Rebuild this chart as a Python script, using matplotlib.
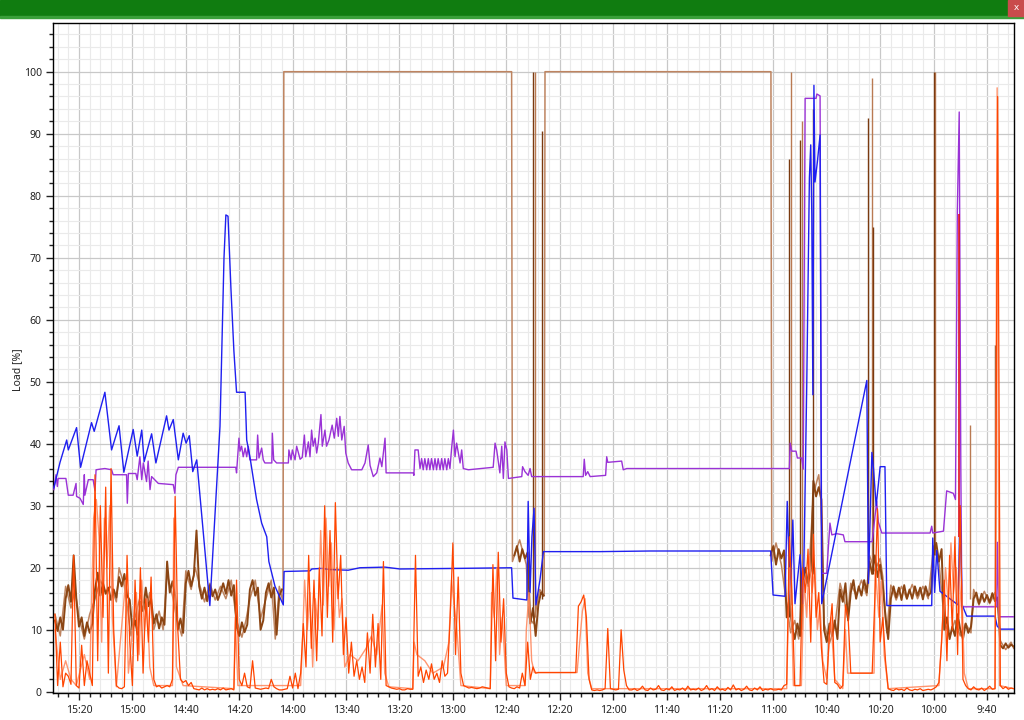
import numpy as np
import matplotlib.pyplot as plt
from matplotlib.patches import Rectangle
from matplotlib.ticker import MultipleLocator, FuncFormatter

plt.rcParams['font.family'] = ['Noto Sans', 'DejaVu Sans']

# time is minutes after midnight; the chart runs from 15:29 (left) back to 9:30 (right)

# orange-red load, one sample per minute starting at 15:29 going back
orange_start = 929
orange = [
    12.5, 1.0, 8.0, 0.8, 3.0, 2.5, 1.2, 22.0, 1.0, 0.6,
    7.5, 1.0, 5.0, 3.0, 1.0, 35.0, 5.0, 30.0, 12.0, 33.0,
    3.0, 36.0, 10.0, 1.0, 0.6, 0.5, 0.8, 22.0, 8.0, 1.0,
    18.0, 5.0, 20.0, 3.0, 15.0, 8.0, 18.5, 2.0, 0.8, 1.0,
    0.6, 0.8, 1.0, 0.8, 2.0, 31.5, 10.0, 2.0, 1.5, 1.8,
    1.0, 1.5, 0.5, 0.4, 0.3, 0.6, 0.3, 0.5, 0.3, 0.4,
    0.3, 0.5, 0.3, 0.6, 0.3, 0.4, 0.5, 0.3, 18.0, 2.0,
    1.0, 3.0, 0.8, 0.6, 5.0, 0.6, 0.5, 0.4, 0.5, 0.6,
    0.5, 2.0, 0.8, 0.5, 0.3, 0.3, 0.4, 0.5, 2.5, 0.6,
    3.0, 0.5, 3.0, 11.0, 4.0, 22.0, 7.0, 18.0, 5.0, 20.0,
    9.0, 30.0, 12.0, 26.0, 8.0, 30.5, 15.0, 22.0, 6.0, 12.0,
    3.0, 8.0, 2.5, 5.0, 2.0, 4.0, 1.5, 9.5, 3.0, 12.5,
    4.0, 11.0, 2.0, 21.0, 1.0, 0.8, 0.6, 0.5, 0.4, 0.5,
    0.3, 0.3, 0.5, 0.4, 0.4, 22.0, 2.5, 4.0, 1.5, 3.5,
    2.0, 4.5, 2.0, 3.0, 1.5, 5.0, 2.5, 3.0, 12.0, 24.0,
    6.0, 18.5, 3.0, 1.0, 0.8, 0.6, 0.7, 0.6, 0.5, 0.6,
    0.8, 0.7, 0.6, 0.5, 20.5, 5.0, 22.5, 8.0, 15.0, 3.0,
    0.8, 0.6, 0.5, 0.8, 0.6, 3.0, 1.0, 8.0, 2.0, 4.0,
    3.0, 3.1, 3.1, 3.1, 3.1, 3.1, 3.1, 3.1, 3.1, 3.1,
    3.1, 3.1, 3.1, 3.1, 3.1, 3.1, 13.8, 14.5, 15.6, 12.0,
    2.0, 0.3, 0.2, 0.3, 0.2, 0.3, 0.5, 10.2, 0.5, 0.4,
    0.3, 0.4, 10.0, 3.5, 1.0, 0.3, 0.3, 0.5, 0.2, 0.4,
    0.9, 0.3, 0.2, 0.6, 0.3, 0.4, 1.0, 0.3, 0.2, 0.5,
    0.3, 0.8, 0.2, 0.4, 0.3, 0.6, 0.2, 0.9, 0.3, 0.4,
    0.3, 0.6, 0.2, 0.4, 1.0, 0.3, 0.5, 0.2, 0.8, 0.3,
    0.4, 0.2, 0.7, 0.3, 1.1, 0.3, 0.5, 0.2, 0.4, 0.9,
    0.3, 0.2, 0.6, 0.3, 0.8, 0.2, 0.4, 0.3, 0.5, 0.3,
    0.3, 0.4, 0.3, 1.0, 1.2, 25.0, 15.5, 1.0, 1.0, 1.0,
    20.0, 16.0, 23.0, 8.0, 25.4, 12.0, 16.0, 7.0, 1.5, 1.2,
    9.6, 14.2, 1.5, 1.2, 0.5, 1.0, 14.0, 12.0, 3.0, 3.0,
    3.0, 3.0, 3.0, 3.0, 3.0, 3.0, 3.0, 15.0, 29.5, 8.0,
    12.0, 5.0, 0.5, 0.3, 0.2, 0.5, 0.3, 0.4, 0.2, 0.6,
    0.3, 0.2, 0.4, 0.3, 0.5, 0.2, 0.3, 0.4, 0.3, 0.5,
    0.8, 1.5, 8.0, 18.0, 5.0, 22.0, 10.0, 25.0, 6.0, 30.0,
    2.0, 1.0, 0.5, 0.3, 0.8, 0.4, 0.3, 0.6, 0.2, 0.5,
    0.9, 0.4, 0.5, 96.0, 1.0, 0.5, 0.8, 0.4, 0.6, 0.5,
]

# light orange load (time, value)
light_orange = [
    (929, 10), (927, 2), (925, 5), (923, 2), (921, 1), (918, 6), (916, 2),
    (914.5, 28), (913.5, 31), (912.5, 25), (911.5, 8), (910.5, 28), (909.5, 20),
    (908.5, 30), (907.5, 12), (906, 0.8), (902.5, 18), (901.5, 3), (899.5, 12),
    (898.5, 16), (897.5, 6), (896.5, 18), (895.5, 10), (894.5, 15), (893.5, 4),
    (892, 1), (885, 1), (884.5, 28), (883.5, 4), (881, 1), (862, 0.5),
    (861.5, 12), (860.5, 1), (837, 1), (836.5, 6), (835.5, 18), (834.5, 10),
    (833.5, 16), (832.5, 4), (831.5, 15), (830.5, 10), (829.5, 26), (828.5, 14),
    (827.5, 28), (826.5, 17), (825.5, 24), (824.5, 10), (823.5, 20), (822.5, 12),
    (821.5, 15), (820.5, 4), (818.5, 6), (815.5, 5), (812.5, 7), (810.5, 9),
    (808.5, 6), (806.5, 14), (805.5, 3), (804, 0.8), (795, 0.5), (794.5, 8),
    (793.5, 6), (790.5, 5), (787.5, 3), (783.5, 4), (781.5, 8), (780.5, 18),
    (779.5, 14), (778.5, 10), (777, 1), (766, 0.5), (765.5, 16), (764.5, 12),
    (763.5, 20), (762.5, 6), (761.5, 12), (760, 1), (753, 1), (752.5, 10),
    (751.5, 16), (750.5, 5), (749.5, 3.1), (733.5, 3.1), (731.5, 13), (730.5, 15),
    (729.5, 3), (728, 0.5), (655, 0.5), (654, 20), (653, 10), (652.5, 1.0),
    (649.5, 1.0), (648.5, 18), (647.5, 12), (646.5, 22), (645.5, 16), (644.5, 20),
    (643.5, 10), (642.5, 14), (641.5, 5), (640, 2), (638.5, 12), (637, 2),
    (634, 0.5), (633, 10), (632.2, 3.0), (622.3, 3.0), (621.8, 20), (620.5, 12),
    (619.5, 18), (618.5, 6), (617, 0.5), (598, 1), (596.5, 12), (595.5, 20),
    (594.5, 14), (593.5, 24), (592.5, 16), (591.5, 20), (590.5, 12), (589.5, 18),
    (588.5, 3), (587, 0.5), (577, 0.5), (576.5, 60), (576.2, 97.4), (575.8, 40),
    (575.3, 1), (570, 0.5),
]

# dark brown load, one sample per minute, three stretches
brown_a_start = 929
brown_a = [
    11.5, 9.8, 12.0, 10.0, 15.0, 17.2, 14.5, 22.0, 15.0, 10.5,
    12.0, 9.0, 11.2, 9.5, 11.0, 16.5, 19.2, 15.5, 17.5, 15.8,
    16.8, 14.8, 16.5, 15.2, 18.5, 17.0, 19.0, 15.5, 14.8, 10.0,
    11.5, 9.2, 14.5, 13.0, 16.8, 13.8, 15.0, 11.0, 12.5, 10.2,
    12.0, 10.8, 21.0, 16.0, 17.8, 15.5, 10.0, 11.8, 9.5, 17.5,
    19.5, 17.0, 18.8, 26.0, 17.0, 15.0, 16.8, 14.6, 17.2, 15.4,
    16.5, 14.8, 16.0, 17.5, 15.8, 18.0, 15.5, 17.2, 10.5, 9.0,
    11.2, 9.6, 10.8, 16.5, 18.0, 15.5, 16.8, 10.0, 11.5, 16.0,
    17.5, 15.2, 16.8, 9.2, 15.5, 16.5,
]
brown_b_start = 757
brown_b = [22.0, 23.5, 21.0, 23.0, 21.5, 22.5, 11.0, 13.5, 9.0, 14.0, 16.0, 15.5]
brown_c_start = 661
brown_c = [
    22.0, 23.5, 20.5, 23.0, 21.5, 22.8, 12.0, 15.0, 10.5, 8.5,
    11.0, 9.0, 18.0, 20.0, 17.5, 19.5, 34.0, 31.5, 33.0, 31.0,
    10.0, 8.0, 11.0, 9.0, 11.5, 8.5, 16.5, 14.5, 17.5, 11.5,
    16.0, 18.0, 15.0, 17.0, 15.5, 18.0, 16.0, 21.0, 19.0, 22.0,
    18.5, 20.5, 17.0, 12.0, 8.5, 15.0, 17.0, 15.2, 16.8, 14.8,
    17.2, 15.0, 16.5, 15.0, 17.0, 15.5, 16.8, 14.9, 17.0, 15.5,
    16.0, 22.0, 24.0, 21.0, 23.0, 10.0, 12.0, 8.5, 10.5, 9.0,
    12.5, 10.0, 8.5, 11.0, 9.5, 10.5, 15.0, 16.0, 14.2, 15.8,
    14.5, 15.6, 14.4, 15.9, 14.6, 15.2, 7.5, 7.0, 7.8, 7.1,
    7.6, 7.3,
]
brown_spike_t = [750.1, 746.5, 654.0, 650.0, 645.2, 624.7, 622.8, 599.8, 576.9]
brown_spike_lo = [12, 15, 12, 9, 19, 18, 19, 22, 15]
brown_spike_hi = [100, 90.5, 86, 89, 94, 92.5, 75, 100, 56]

# light brown load (time, value) with two long stretches at 100 %
light_brown = [
    (929, 12.5), (927, 9.0), (925, 17.0), (923, 13.5), (921.5, 16.5),
    (920, 12.0), (918, 8.5), (916, 12.5), (914, 15.0), (912, 18.0), (910, 16.0),
    (908, 17.0), (906, 14.5), (905, 20.0), (903, 17.0), (902, 14.0),
    (900.5, 9.0), (899, 12.0), (897, 15.5), (895, 13.0), (893.5, 16.0),
    (892, 10.0), (890, 13.0), (888.5, 10.0), (887, 19.0), (885, 15.5),
    (883.5, 12.0), (881.5, 9.0), (880, 19.5), (878, 16.5), (876.5, 20.0),
    (875, 17.5), (873, 14.5), (871, 17.5), (869, 14.8), (867, 17.0),
    (865, 15.0), (863, 18.0), (861, 11.5), (859, 8.8), (857.5, 11.5),
    (856, 15.0), (854, 18.0), (852, 11.8), (850, 15.0), (848, 18.0),
    (846.5, 8.5), (845, 17.0), (843.6, 14.5), (843.3, 100), (758.0, 100),
    (757.7, 21), (755, 24.5), (752.5, 20.5), (751.5, 12), (749.8, 11),
    (747.5, 16.5), (745.8, 15.5), (745.5, 100), (660.9, 100),
    (660.6, 21), (659, 24), (657, 20.5), (655, 14), (653.5, 9.5), (652, 11.5),
    (650.5, 8.5), (649, 20), (647, 17), (645, 32), (643, 35), (642.2, 31),
    (641, 11), (639, 7.8), (637, 10.5), (635, 17.5), (633.5, 15), (632.3, 12),
    (631, 17.5), (629, 15.5), (627, 18), (625, 15.5), (624, 22), (622, 19.5),
    (620, 21.5), (619, 18.5), (617.5, 9.5), (616, 17.2), (614, 14.8), (612, 17),
    (610, 15), (608, 17.3), (606, 15), (604, 17), (602, 15), (600, 23.5),
    (598, 21), (596, 11.5), (594, 8.8), (592, 11.5), (590, 9.0), (588, 11.0),
    (586, 9.5), (585, 16.5), (583, 14.0), (581, 16.2), (579, 14.2), (577, 16.0),
    (576, 14.5), (575, 8.2), (573, 6.8), (571, 8.0), (570, 7.0),
]
light_brown_spike_t = [749.4, 653.4, 649.4, 623.2, 599.4, 586.3]
light_brown_spike_lo = [12, 14, 10, 20, 22, 15]
light_brown_spike_hi = [100, 100, 92, 99, 100, 43]

# blue load (time, value)
blue = [
    (929.4, 32.9), (927.1, 37.0), (924.6, 40.6), (924.0, 39.0), (920.9, 42.6),
    (919.4, 36.2), (915.3, 43.4), (914.3, 42.0), (910.3, 48.3), (907.8, 39.0),
    (905.0, 42.9), (903.2, 35.4), (899.7, 42.3), (898.2, 38.0), (896.5, 42.2),
    (895.6, 37.1), (892.8, 41.6), (891.2, 36.9), (887.2, 44.5), (886.3, 42.2),
    (884.7, 43.9), (882.8, 37.4), (881.0, 41.7), (879.9, 40.1), (878.7, 41.3),
    (877.4, 35.5), (875.9, 37.4), (871.0, 13.9), (867.2, 42.8), (865.7, 70.0),
    (865.0, 76.9), (864.2, 76.7), (863.1, 65.0), (862.0, 55.0), (861.0, 48.3),
    (857.8, 48.3), (857.2, 40.6), (856.0, 37.9), (853.5, 31.0), (851.6, 27.2),
    (849.7, 25.0), (848.9, 21.0), (846.6, 17.0), (843.5, 14.0), (843.2, 19.4),
    (833.5, 19.5), (832.8, 19.8), (829.1, 19.9), (826.0, 19.7), (819.2, 19.6),
    (814.8, 20.0), (805.4, 20.1), (799.8, 19.8), (777.3, 19.9), (758.0, 20.0),
    (757.5, 15.1), (752.3, 14.8), (751.8, 30.7), (751.1, 16.0), (750.4, 25.0),
    (749.6, 29.6), (748.9, 14.0), (747.4, 18.0), (746.1, 22.6), (724.9, 22.6),
    (706.2, 22.7), (687.4, 22.7), (661.0, 22.7), (660.1, 15.6), (655.6, 15.4),
    (654.8, 30.7), (653.7, 14.9), (652.7, 27.7), (651.9, 14.2), (650.0, 22.1),
    (648.8, 14.2), (647.5, 49.2), (646.5, 82.9), (646.0, 88.2), (645.6, 76.9),
    (645.2, 47.9), (644.8, 97.8), (644.4, 82.2), (643.5, 85.5), (642.5, 89.8),
    (641.9, 14.2), (625.0, 50.2), (624.4, 17.5), (623.1, 38.6), (622.5, 36.0),
    (621.5, 30.0), (620.0, 36.3), (618.2, 36.3), (617.5, 13.9), (600.7, 13.9),
    (600.3, 24.8), (599.6, 16.0), (598.8, 22.8), (597.6, 16.2), (590.8, 14.0),
    (590.1, 30.0), (589.3, 14.0), (587.6, 12.2), (577.0, 12.2), (576.2, 10.6),
    (575.1, 10.1), (569.5, 10.1),
]

# purple load (time, value)
purple = [
    (929.4, 32.6), (928.6, 35.0), (928.1, 33.1), (927.8, 34.4), (924.9, 34.4),
    (924.0, 31.7), (922.2, 31.7), (921.1, 33.6), (920.9, 31.5), (919.6, 31.2),
    (918.4, 30.2), (918.0, 35.0), (917.8, 31.7), (916.5, 34.2), (914.7, 34.2),
    (914.0, 32.4), (913.6, 35.8), (912.1, 35.9), (910.3, 36.0), (907.8, 35.8),
    (907.2, 35.0), (902.2, 35.0), (901.9, 30.4), (901.5, 35.2), (898.7, 35.2),
    (898.2, 34.2), (897.2, 37.9), (896.5, 34.2), (895.9, 36.9), (894.7, 33.9),
    (894.1, 37.2), (893.4, 32.6), (892.8, 34.7), (890.3, 33.6), (884.7, 33.4),
    (884.1, 32.0), (883.7, 35.0), (882.8, 36.2), (861.3, 36.2), (861.0, 35.3),
    (860.1, 40.9), (859.7, 38.8), (859.1, 39.6), (858.5, 37.9), (857.8, 39.3),
    (857.2, 37.9), (856.6, 39.6), (856.0, 37.4), (853.5, 37.4), (853.1, 41.4),
    (852.6, 37.7), (851.6, 39.3), (851.0, 37.4), (850.4, 36.9), (847.8, 36.9),
    (847.6, 41.7), (847.1, 37.4), (846.0, 36.9), (841.6, 36.9), (841.4, 39.0),
    (840.6, 37.4), (840.1, 39.0), (839.1, 37.4), (838.5, 39.6), (837.2, 37.5),
    (836.4, 37.8), (835.6, 41.4), (835.1, 37.9), (834.1, 40.3), (833.5, 37.9),
    (832.9, 42.2), (832.3, 39.6), (831.6, 40.9), (831.0, 38.5), (830.4, 40.1),
    (829.4, 44.7), (828.9, 39.6), (827.9, 42.2), (827.3, 39.6), (826.4, 40.6),
    (825.2, 43.0), (824.4, 40.9), (823.5, 44.1), (822.9, 41.2), (822.3, 44.4),
    (821.6, 40.6), (820.7, 42.8), (820.1, 38.5), (819.2, 36.9), (817.9, 35.8),
    (814.1, 35.8), (812.9, 36.9), (811.7, 39.8), (811.0, 36.5), (809.8, 34.7),
    (808.5, 35.3), (807.3, 37.7), (806.6, 36.3), (805.4, 40.9), (805.0, 35.3),
    (794.8, 35.3), (794.6, 34.9), (794.2, 39.0), (793.0, 39.0), (792.3, 36.0),
    (791.7, 37.6), (791.1, 35.8), (790.5, 37.6), (789.8, 35.8), (789.2, 37.6),
    (788.6, 35.8), (788.0, 37.6), (787.3, 35.8), (786.7, 37.6), (786.1, 35.8),
    (785.5, 37.6), (784.8, 35.8), (784.2, 37.6), (783.6, 35.8), (783.0, 37.6),
    (782.3, 35.8), (781.7, 37.6), (781.1, 36.0), (780.4, 39.6), (779.8, 42.2),
    (779.2, 37.9), (778.6, 40.1), (777.3, 36.9), (776.7, 39.0), (776.1, 36.0),
    (774.2, 35.8), (764.9, 36.2), (764.2, 40.1), (763.6, 39.0), (762.4, 35.3),
    (761.7, 39.6), (761.1, 34.4), (760.5, 40.3), (759.8, 39.0), (759.2, 34.4),
    (754.2, 34.7), (753.9, 36.3), (753.0, 35.5), (751.8, 34.9), (751.1, 36.0),
    (750.5, 34.7), (731.2, 34.7), (730.8, 37.5), (730.3, 34.9), (729.5, 35.5),
    (728.6, 34.7), (722.8, 34.9), (722.4, 37.9), (722.0, 37.0), (716.8, 37.2),
    (716.2, 35.8), (714.9, 36.0), (654.0, 36.0), (653.7, 40.1), (653.1, 38.8),
    (651.5, 38.8), (651.0, 37.7), (649.4, 37.7), (648.8, 35.9), (648.1, 95.7),
    (644.0, 95.7), (643.7, 96.4), (642.5, 96.1), (641.9, 19.1), (640.0, 19.1),
    (639.4, 23.3), (638.8, 27.2), (638.1, 25.3), (636.3, 25.5), (633.8, 25.3),
    (633.2, 24.2), (623.0, 24.2), (621.3, 30.7), (620.7, 27.4), (619.4, 25.6),
    (601.3, 25.6), (600.7, 26.7), (600.3, 25.6), (596.3, 25.9), (595.1, 32.4),
    (592.6, 32.0), (591.8, 31.0), (591.1, 77.6), (590.4, 93.5), (589.8, 36.0),
    (589.4, 13.7), (576.3, 13.7), (576.1, 24.1), (575.4, 12.1), (569.5, 12.1),
]

# short red burst next to the purple peak near 9:50
red_spike_t = [590.6]
red_spike_lo = [25]
red_spike_hi = [77]


def hhmm(v, pos):
    m = int(round(v))
    return f"{m // 60}:{m % 60:02d}"


def minute_axis(start, values):
    return start - np.arange(len(values))


fig = plt.figure(figsize=(10.24, 7.2), dpi=100)
fig.patch.set_facecolor('white')

# window title bar
fig.patches.append(Rectangle((0, 1 - 16 / 720), 1, 16 / 720, transform=fig.transFigure,
                             color='#107C10', zorder=0))
fig.patches.append(Rectangle((0, 1 - 17.5 / 720), 1, 2 / 720, transform=fig.transFigure,
                             color='#3A9F3A', zorder=0))
fig.patches.append(Rectangle((1008 / 1024, 1 - 16 / 720), 16 / 1024, 16 / 720,
                             transform=fig.transFigure, color='#C94C4C', zorder=1))
fig.text(1016 / 1024, 1 - 8 / 720, 'x', color='white', fontsize=7,
         ha='center', va='center', fontweight='bold')

ax = fig.add_axes([0.0522, 0.0375, 0.938, 0.9301])

lb_t, lb_v = zip(*light_brown)
ax.plot(lb_t, lb_v, color='#BE8460', lw=1.1, zorder=2)
ax.vlines(light_brown_spike_t, light_brown_spike_lo, light_brown_spike_hi,
          color='#B97A52', lw=1.0, zorder=2)

for start, vals in [(brown_a_start, brown_a), (brown_b_start, brown_b), (brown_c_start, brown_c)]:
    ax.plot(minute_axis(start, vals), vals, color='#8B4513', lw=1.4, zorder=3)
ax.vlines(brown_spike_t, brown_spike_lo, brown_spike_hi, color='#7A3A10', lw=1.0, zorder=3)

p_t, p_v = zip(*purple)
ax.plot(p_t, p_v, color='#9A32D6', lw=1.0, zorder=4)

b_t, b_v = zip(*blue)
ax.plot(b_t, b_v, color='#1F1FF0', lw=1.0, zorder=5)

ax.vlines(red_spike_t, red_spike_lo, red_spike_hi, color='#E01020', lw=1.2, zorder=5)

lo_t, lo_v = zip(*light_orange)
ax.plot(lo_t, lo_v, color='#FF8A60', lw=1.0, alpha=0.9, zorder=6)
ax.plot(minute_axis(orange_start, orange), orange, color='#FF4500', lw=0.9, zorder=7)

ax.set_xlim(929.56, 569.9)
ax.set_ylim(-0.2, 107.8)

ax.xaxis.set_major_locator(MultipleLocator(20))
ax.xaxis.set_minor_locator(MultipleLocator(4))
ax.xaxis.set_major_formatter(FuncFormatter(hhmm))
ax.yaxis.set_major_locator(MultipleLocator(10))
ax.yaxis.set_minor_locator(MultipleLocator(2))

ax.set_axisbelow(True)
ax.grid(which='major', color='#C8C8C8', lw=0.9)
ax.grid(which='minor', color='#EAEAEA', lw=0.8)

ax.tick_params(which='major', length=5, width=1, labelsize=7.5, colors='#222222')
ax.tick_params(which='minor', length=3, width=1, color='#222222')
for side in ax.spines.values():
    side.set_color('black')
    side.set_linewidth(1.0)

fig.text(18 / 1024, 1 - 370 / 720, 'Load [%]', rotation=90, fontsize=7.5,
         ha='center', va='center', color='#222222')

fig.savefig('out.png', dpi=100)
